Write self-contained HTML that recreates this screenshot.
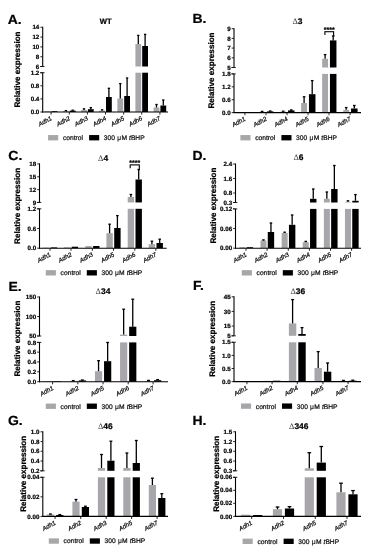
<!DOCTYPE html>
<html><head><meta charset="utf-8"><title>Figure</title>
<style>html,body{margin:0;padding:0;background:#fff}svg{display:block}text{font-family:"Liberation Sans",sans-serif;text-rendering:geometricPrecision;stroke:#000;stroke-width:0.22px}</style></head>
<body><svg width="371" height="550" viewBox="0 0 371 550">
<defs><filter id="soft" x="0" y="0" width="371" height="550" filterUnits="userSpaceOnUse"><feGaussianBlur stdDeviation="0.38"/></filter></defs>
<rect width="371" height="550" fill="#fff"/>
<g filter="url(#soft)">
<rect x="44.80" y="111.20" width="5.80" height="0.80" fill="#a8a6ab"/>
<rect x="51.60" y="111.20" width="5.80" height="0.80" fill="#000"/>
<rect x="63.00" y="111.00" width="5.80" height="1.00" fill="#a8a6ab"/>
<line x1="65.90" y1="110.60" x2="65.90" y2="111.00" stroke="#000" stroke-width="1.3"/>
<line x1="64.74" y1="110.60" x2="67.06" y2="110.60" stroke="#000" stroke-width="1.3"/>
<rect x="69.80" y="110.60" width="5.80" height="1.40" fill="#000"/>
<line x1="72.70" y1="110.20" x2="72.70" y2="110.60" stroke="#000" stroke-width="1.3"/>
<line x1="71.54" y1="110.20" x2="73.86" y2="110.20" stroke="#000" stroke-width="1.3"/>
<rect x="81.10" y="110.00" width="5.80" height="2.00" fill="#a8a6ab"/>
<line x1="84.00" y1="108.80" x2="84.00" y2="110.00" stroke="#000" stroke-width="1.3"/>
<line x1="82.84" y1="108.80" x2="85.16" y2="108.80" stroke="#000" stroke-width="1.3"/>
<rect x="87.90" y="109.20" width="5.80" height="2.80" fill="#000"/>
<line x1="90.80" y1="107.60" x2="90.80" y2="109.20" stroke="#000" stroke-width="1.3"/>
<line x1="89.64" y1="107.60" x2="91.96" y2="107.60" stroke="#000" stroke-width="1.3"/>
<rect x="99.20" y="110.60" width="5.80" height="1.40" fill="#a8a6ab"/>
<line x1="102.10" y1="109.80" x2="102.10" y2="110.60" stroke="#000" stroke-width="1.3"/>
<line x1="100.94" y1="109.80" x2="103.26" y2="109.80" stroke="#000" stroke-width="1.3"/>
<rect x="106.00" y="97.00" width="5.80" height="15.00" fill="#000"/>
<line x1="108.90" y1="88.30" x2="108.90" y2="97.00" stroke="#000" stroke-width="1.3"/>
<line x1="107.74" y1="88.30" x2="110.06" y2="88.30" stroke="#000" stroke-width="1.3"/>
<rect x="117.40" y="98.50" width="5.80" height="13.50" fill="#a8a6ab"/>
<line x1="120.30" y1="83.60" x2="120.30" y2="98.50" stroke="#000" stroke-width="1.3"/>
<line x1="119.14" y1="83.60" x2="121.46" y2="83.60" stroke="#000" stroke-width="1.3"/>
<rect x="124.20" y="96.00" width="5.80" height="16.00" fill="#000"/>
<line x1="127.10" y1="78.00" x2="127.10" y2="96.00" stroke="#000" stroke-width="1.3"/>
<line x1="125.94" y1="78.00" x2="128.26" y2="78.00" stroke="#000" stroke-width="1.3"/>
<rect x="135.40" y="72.70" width="5.80" height="39.30" fill="#a8a6ab"/>
<rect x="135.40" y="44.00" width="5.80" height="22.50" fill="#a8a6ab"/>
<line x1="138.30" y1="35.40" x2="138.30" y2="44.00" stroke="#000" stroke-width="1.3"/>
<line x1="137.14" y1="35.40" x2="139.46" y2="35.40" stroke="#000" stroke-width="1.3"/>
<rect x="142.20" y="72.70" width="5.80" height="39.30" fill="#000"/>
<rect x="142.20" y="46.00" width="5.80" height="20.50" fill="#000"/>
<line x1="145.10" y1="34.40" x2="145.10" y2="46.00" stroke="#000" stroke-width="1.3"/>
<line x1="143.94" y1="34.40" x2="146.26" y2="34.40" stroke="#000" stroke-width="1.3"/>
<rect x="153.60" y="107.50" width="5.80" height="4.50" fill="#a8a6ab"/>
<line x1="156.50" y1="104.50" x2="156.50" y2="107.50" stroke="#000" stroke-width="1.3"/>
<line x1="155.34" y1="104.50" x2="157.66" y2="104.50" stroke="#000" stroke-width="1.3"/>
<rect x="160.40" y="105.50" width="5.80" height="6.50" fill="#000"/>
<line x1="163.30" y1="100.00" x2="163.30" y2="105.50" stroke="#000" stroke-width="1.3"/>
<line x1="162.14" y1="100.00" x2="164.46" y2="100.00" stroke="#000" stroke-width="1.3"/>
<line x1="42.70" y1="26.80" x2="42.70" y2="66.50" stroke="#000" stroke-width="1.1"/>
<line x1="42.70" y1="72.70" x2="42.70" y2="112.50" stroke="#000" stroke-width="1.1"/>
<line x1="42.20" y1="112.00" x2="168.00" y2="112.00" stroke="#000" stroke-width="1.1"/>
<line x1="40.40" y1="27.30" x2="42.70" y2="27.30" stroke="#111" stroke-width="0.9"/>
<text font-size="6.2" font-weight="bold" text-anchor="end" fill="#000" transform="translate(39.30 29.40)">14</text>
<line x1="40.40" y1="37.10" x2="42.70" y2="37.10" stroke="#111" stroke-width="0.9"/>
<text font-size="6.2" font-weight="bold" text-anchor="end" fill="#000" transform="translate(39.30 39.20)">12</text>
<line x1="40.40" y1="46.90" x2="42.70" y2="46.90" stroke="#111" stroke-width="0.9"/>
<text font-size="6.2" font-weight="bold" text-anchor="end" fill="#000" transform="translate(39.30 49.00)">10</text>
<line x1="40.40" y1="56.70" x2="42.70" y2="56.70" stroke="#111" stroke-width="0.9"/>
<text font-size="6.2" font-weight="bold" text-anchor="end" fill="#000" transform="translate(39.30 58.80)">8</text>
<line x1="40.40" y1="66.50" x2="42.70" y2="66.50" stroke="#111" stroke-width="0.9"/>
<text font-size="6.2" font-weight="bold" text-anchor="end" fill="#000" transform="translate(39.30 68.60)">6</text>
<line x1="40.40" y1="72.70" x2="42.70" y2="72.70" stroke="#111" stroke-width="0.9"/>
<text font-size="6.2" font-weight="bold" text-anchor="end" fill="#000" transform="translate(39.30 74.80)">1.2</text>
<line x1="40.40" y1="85.80" x2="42.70" y2="85.80" stroke="#111" stroke-width="0.9"/>
<text font-size="6.2" font-weight="bold" text-anchor="end" fill="#000" transform="translate(39.30 87.90)">0.8</text>
<line x1="40.40" y1="98.90" x2="42.70" y2="98.90" stroke="#111" stroke-width="0.9"/>
<text font-size="6.2" font-weight="bold" text-anchor="end" fill="#000" transform="translate(39.30 101.00)">0.4</text>
<line x1="40.40" y1="112.00" x2="42.70" y2="112.00" stroke="#111" stroke-width="0.9"/>
<text font-size="6.2" font-weight="bold" text-anchor="end" fill="#000" transform="translate(39.30 114.10)">0.0</text>
<line x1="40.10" y1="66.50" x2="44.50" y2="66.50" stroke="#111" stroke-width="0.9"/>
<line x1="40.10" y1="72.70" x2="44.50" y2="72.70" stroke="#111" stroke-width="0.9"/>
<line x1="51.10" y1="112.00" x2="51.10" y2="114.60" stroke="#111" stroke-width="0.9"/>
<text font-size="6.1" font-weight="normal" text-anchor="end" fill="#1a1a1a" font-style="italic" transform="translate(52.20 119.60) rotate(-29)" stroke="none">Adh1</text>
<line x1="69.30" y1="112.00" x2="69.30" y2="114.60" stroke="#111" stroke-width="0.9"/>
<text font-size="6.1" font-weight="normal" text-anchor="end" fill="#1a1a1a" font-style="italic" transform="translate(70.40 119.60) rotate(-29)" stroke="none">Adh2</text>
<line x1="87.40" y1="112.00" x2="87.40" y2="114.60" stroke="#111" stroke-width="0.9"/>
<text font-size="6.1" font-weight="normal" text-anchor="end" fill="#1a1a1a" font-style="italic" transform="translate(88.50 119.60) rotate(-29)" stroke="none">Adh3</text>
<line x1="105.50" y1="112.00" x2="105.50" y2="114.60" stroke="#111" stroke-width="0.9"/>
<text font-size="6.1" font-weight="normal" text-anchor="end" fill="#1a1a1a" font-style="italic" transform="translate(106.60 119.60) rotate(-29)" stroke="none">Adh4</text>
<line x1="123.70" y1="112.00" x2="123.70" y2="114.60" stroke="#111" stroke-width="0.9"/>
<text font-size="6.1" font-weight="normal" text-anchor="end" fill="#1a1a1a" font-style="italic" transform="translate(124.80 119.60) rotate(-29)" stroke="none">Adh5</text>
<line x1="141.70" y1="112.00" x2="141.70" y2="114.60" stroke="#111" stroke-width="0.9"/>
<text font-size="6.1" font-weight="normal" text-anchor="end" fill="#1a1a1a" font-style="italic" transform="translate(142.80 119.60) rotate(-29)" stroke="none">Adh6</text>
<line x1="159.90" y1="112.00" x2="159.90" y2="114.60" stroke="#111" stroke-width="0.9"/>
<text font-size="6.1" font-weight="normal" text-anchor="end" fill="#1a1a1a" font-style="italic" transform="translate(161.00 119.60) rotate(-29)" stroke="none">Adh7</text>
<text font-size="13.2" font-weight="bold" text-anchor="start" fill="#000" transform="translate(7.70 23.60) scale(1.06 1)" stroke="none">A.</text>
<text font-size="7.8" font-weight="bold" text-anchor="start" fill="#000" transform="translate(99.70 23.80) scale(0.98 1)">WT</text>
<text font-size="8.1" font-weight="bold" text-anchor="middle" fill="#000" transform="translate(20.30 69.50) rotate(-90)">Relative expression</text>
<rect x="48.10" y="135.05" width="10.10" height="5.35" fill="#a8a6ab"/>
<text font-size="6.7" font-weight="normal" text-anchor="start" fill="#1a1a1a" transform="translate(62.90 140.10)" stroke="none">control</text>
<rect x="89.10" y="135.05" width="10.10" height="5.35" fill="#000"/>
<text x="103.80" y="140.10" font-size="6.7" fill="#1a1a1a" stroke="none">300 <tspan fill="#444" dx="0.35">μ</tspan><tspan dx="0.35">M</tspan> <tspan font-style="italic" dx="0.2">t</tspan>BHP</text>
<rect x="238.05" y="112.00" width="5.90" height="0.60" fill="#a8a6ab"/>
<rect x="245.85" y="112.00" width="6.50" height="0.60" fill="#000"/>
<rect x="259.15" y="111.80" width="5.90" height="0.80" fill="#a8a6ab"/>
<line x1="262.10" y1="111.40" x2="262.10" y2="111.80" stroke="#000" stroke-width="1.3"/>
<line x1="260.80" y1="111.40" x2="263.40" y2="111.40" stroke="#000" stroke-width="1.3"/>
<rect x="266.95" y="111.40" width="6.50" height="1.20" fill="#000"/>
<line x1="270.20" y1="111.00" x2="270.20" y2="111.40" stroke="#000" stroke-width="1.3"/>
<line x1="268.90" y1="111.00" x2="271.50" y2="111.00" stroke="#000" stroke-width="1.3"/>
<rect x="280.25" y="111.60" width="5.90" height="1.00" fill="#a8a6ab"/>
<line x1="283.20" y1="111.20" x2="283.20" y2="111.60" stroke="#000" stroke-width="1.3"/>
<line x1="281.90" y1="111.20" x2="284.50" y2="111.20" stroke="#000" stroke-width="1.3"/>
<rect x="288.05" y="110.40" width="6.50" height="2.20" fill="#000"/>
<line x1="291.30" y1="109.90" x2="291.30" y2="110.40" stroke="#000" stroke-width="1.3"/>
<line x1="290.00" y1="109.90" x2="292.60" y2="109.90" stroke="#000" stroke-width="1.3"/>
<rect x="301.15" y="103.00" width="5.90" height="9.60" fill="#a8a6ab"/>
<line x1="304.10" y1="96.80" x2="304.10" y2="103.00" stroke="#000" stroke-width="1.3"/>
<line x1="302.80" y1="96.80" x2="305.40" y2="96.80" stroke="#000" stroke-width="1.3"/>
<rect x="308.95" y="94.20" width="6.50" height="18.40" fill="#000"/>
<line x1="312.20" y1="80.60" x2="312.20" y2="94.20" stroke="#000" stroke-width="1.3"/>
<line x1="310.90" y1="80.60" x2="313.50" y2="80.60" stroke="#000" stroke-width="1.3"/>
<rect x="322.15" y="73.90" width="5.90" height="38.70" fill="#a8a6ab"/>
<rect x="322.15" y="58.80" width="5.90" height="8.70" fill="#a8a6ab"/>
<line x1="325.10" y1="54.60" x2="325.10" y2="58.80" stroke="#000" stroke-width="1.3"/>
<line x1="323.80" y1="54.60" x2="326.40" y2="54.60" stroke="#000" stroke-width="1.3"/>
<rect x="329.95" y="73.90" width="6.50" height="38.70" fill="#000"/>
<rect x="329.95" y="40.40" width="6.50" height="27.10" fill="#000"/>
<line x1="333.20" y1="36.00" x2="333.20" y2="40.40" stroke="#000" stroke-width="1.3"/>
<line x1="331.90" y1="36.00" x2="334.50" y2="36.00" stroke="#000" stroke-width="1.3"/>
<rect x="343.25" y="109.80" width="5.90" height="2.80" fill="#a8a6ab"/>
<line x1="346.20" y1="107.60" x2="346.20" y2="109.80" stroke="#000" stroke-width="1.3"/>
<line x1="344.90" y1="107.60" x2="347.50" y2="107.60" stroke="#000" stroke-width="1.3"/>
<rect x="351.05" y="108.50" width="6.50" height="4.10" fill="#000"/>
<line x1="354.30" y1="105.50" x2="354.30" y2="108.50" stroke="#000" stroke-width="1.3"/>
<line x1="353.00" y1="105.50" x2="355.60" y2="105.50" stroke="#000" stroke-width="1.3"/>
<line x1="234.00" y1="28.20" x2="234.00" y2="67.50" stroke="#000" stroke-width="1.1"/>
<line x1="234.00" y1="73.90" x2="234.00" y2="113.10" stroke="#000" stroke-width="1.1"/>
<line x1="233.50" y1="112.60" x2="361.00" y2="112.60" stroke="#000" stroke-width="1.1"/>
<line x1="231.70" y1="28.70" x2="234.00" y2="28.70" stroke="#111" stroke-width="0.9"/>
<text font-size="6.2" font-weight="bold" text-anchor="end" fill="#000" transform="translate(230.60 30.80)">9</text>
<line x1="231.70" y1="38.40" x2="234.00" y2="38.40" stroke="#111" stroke-width="0.9"/>
<text font-size="6.2" font-weight="bold" text-anchor="end" fill="#000" transform="translate(230.60 40.50)">8</text>
<line x1="231.70" y1="48.10" x2="234.00" y2="48.10" stroke="#111" stroke-width="0.9"/>
<text font-size="6.2" font-weight="bold" text-anchor="end" fill="#000" transform="translate(230.60 50.20)">7</text>
<line x1="231.70" y1="57.80" x2="234.00" y2="57.80" stroke="#111" stroke-width="0.9"/>
<text font-size="6.2" font-weight="bold" text-anchor="end" fill="#000" transform="translate(230.60 59.90)">6</text>
<line x1="231.70" y1="67.50" x2="234.00" y2="67.50" stroke="#111" stroke-width="0.9"/>
<text font-size="6.2" font-weight="bold" text-anchor="end" fill="#000" transform="translate(230.60 69.60)">5</text>
<line x1="231.70" y1="73.90" x2="234.00" y2="73.90" stroke="#111" stroke-width="0.9"/>
<text font-size="6.2" font-weight="bold" text-anchor="end" fill="#000" transform="translate(230.60 76.00)">1.8</text>
<line x1="231.70" y1="86.80" x2="234.00" y2="86.80" stroke="#111" stroke-width="0.9"/>
<text font-size="6.2" font-weight="bold" text-anchor="end" fill="#000" transform="translate(230.60 88.90)">1.2</text>
<line x1="231.70" y1="99.70" x2="234.00" y2="99.70" stroke="#111" stroke-width="0.9"/>
<text font-size="6.2" font-weight="bold" text-anchor="end" fill="#000" transform="translate(230.60 101.80)">0.6</text>
<line x1="231.70" y1="112.60" x2="234.00" y2="112.60" stroke="#111" stroke-width="0.9"/>
<text font-size="6.2" font-weight="bold" text-anchor="end" fill="#000" transform="translate(230.60 114.70)">0.0</text>
<line x1="231.40" y1="67.50" x2="235.80" y2="67.50" stroke="#111" stroke-width="0.9"/>
<line x1="231.40" y1="73.90" x2="235.80" y2="73.90" stroke="#111" stroke-width="0.9"/>
<line x1="244.90" y1="112.60" x2="244.90" y2="115.20" stroke="#111" stroke-width="0.9"/>
<text font-size="6.1" font-weight="normal" text-anchor="end" fill="#1a1a1a" font-style="italic" transform="translate(246.00 120.20) rotate(-29)" stroke="none">Adh1</text>
<line x1="266.00" y1="112.60" x2="266.00" y2="115.20" stroke="#111" stroke-width="0.9"/>
<text font-size="6.1" font-weight="normal" text-anchor="end" fill="#1a1a1a" font-style="italic" transform="translate(267.10 120.20) rotate(-29)" stroke="none">Adh2</text>
<line x1="287.10" y1="112.60" x2="287.10" y2="115.20" stroke="#111" stroke-width="0.9"/>
<text font-size="6.1" font-weight="normal" text-anchor="end" fill="#1a1a1a" font-style="italic" transform="translate(288.20 120.20) rotate(-29)" stroke="none">Adh4</text>
<line x1="308.00" y1="112.60" x2="308.00" y2="115.20" stroke="#111" stroke-width="0.9"/>
<text font-size="6.1" font-weight="normal" text-anchor="end" fill="#1a1a1a" font-style="italic" transform="translate(309.10 120.20) rotate(-29)" stroke="none">Adh5</text>
<line x1="329.00" y1="112.60" x2="329.00" y2="115.20" stroke="#111" stroke-width="0.9"/>
<text font-size="6.1" font-weight="normal" text-anchor="end" fill="#1a1a1a" font-style="italic" transform="translate(330.10 120.20) rotate(-29)" stroke="none">Adh6</text>
<line x1="350.10" y1="112.60" x2="350.10" y2="115.20" stroke="#111" stroke-width="0.9"/>
<text font-size="6.1" font-weight="normal" text-anchor="end" fill="#1a1a1a" font-style="italic" transform="translate(351.20 120.20) rotate(-29)" stroke="none">Adh7</text>
<text font-size="13.2" font-weight="bold" text-anchor="start" fill="#000" transform="translate(192.50 23.40) scale(1.06 1)" stroke="none">B.</text>
<text font-size="8.2" font-weight="bold" text-anchor="start" fill="#000" transform="translate(292.40 24.30) scale(1.03 1)"><tspan font-family="Liberation Serif, serif" font-weight="normal" font-size="8.2" stroke="none" fill="#3a3a3a">Δ</tspan>3</text>
<text font-size="8.1" font-weight="bold" text-anchor="middle" fill="#000" transform="translate(214.10 70.50) rotate(-90)">Relative expression</text>
<rect x="240.40" y="135.05" width="10.10" height="5.35" fill="#a8a6ab"/>
<text font-size="6.7" font-weight="normal" text-anchor="start" fill="#1a1a1a" transform="translate(255.20 140.10)" stroke="none">control</text>
<rect x="281.40" y="135.05" width="10.10" height="5.35" fill="#000"/>
<text x="296.10" y="140.10" font-size="6.7" fill="#1a1a1a" stroke="none">300 <tspan fill="#444" dx="0.35">μ</tspan><tspan dx="0.35">M</tspan> <tspan font-style="italic" dx="0.2">t</tspan>BHP</text>
<line x1="324.90" y1="31.70" x2="333.60" y2="31.70" stroke="#000" stroke-width="1.1"/>
<line x1="324.90" y1="31.20" x2="324.90" y2="35.00" stroke="#000" stroke-width="1.1"/>
<line x1="333.60" y1="31.20" x2="333.60" y2="36.20" stroke="#000" stroke-width="1.1"/>
<text font-size="6.9" font-weight="bold" text-anchor="middle" fill="#000" transform="translate(329.15 32.10) scale(1.02 1)" stroke="none">****</text>
<rect x="42.90" y="247.60" width="6.40" height="0.60" fill="#a8a6ab"/>
<rect x="50.70" y="247.40" width="6.40" height="0.80" fill="#000"/>
<rect x="63.90" y="247.30" width="6.40" height="0.90" fill="#a8a6ab"/>
<rect x="71.70" y="246.70" width="6.40" height="1.50" fill="#000"/>
<rect x="85.30" y="246.10" width="6.40" height="2.10" fill="#a8a6ab"/>
<rect x="93.10" y="246.00" width="6.40" height="2.20" fill="#000"/>
<rect x="106.40" y="233.20" width="6.40" height="15.00" fill="#a8a6ab"/>
<line x1="109.60" y1="224.20" x2="109.60" y2="233.20" stroke="#000" stroke-width="1.3"/>
<line x1="108.32" y1="224.20" x2="110.88" y2="224.20" stroke="#000" stroke-width="1.3"/>
<rect x="114.20" y="228.00" width="6.40" height="20.20" fill="#000"/>
<line x1="117.40" y1="215.60" x2="117.40" y2="228.00" stroke="#000" stroke-width="1.3"/>
<line x1="116.12" y1="215.60" x2="118.68" y2="215.60" stroke="#000" stroke-width="1.3"/>
<rect x="127.70" y="208.80" width="6.40" height="39.40" fill="#a8a6ab"/>
<rect x="127.70" y="197.00" width="6.40" height="5.45" fill="#a8a6ab"/>
<line x1="130.90" y1="194.50" x2="130.90" y2="197.00" stroke="#000" stroke-width="1.3"/>
<line x1="129.62" y1="194.50" x2="132.18" y2="194.50" stroke="#000" stroke-width="1.3"/>
<rect x="135.50" y="208.80" width="6.40" height="39.40" fill="#000"/>
<rect x="135.50" y="179.50" width="6.40" height="22.95" fill="#000"/>
<line x1="138.70" y1="169.50" x2="138.70" y2="179.50" stroke="#000" stroke-width="1.3"/>
<line x1="137.42" y1="169.50" x2="139.98" y2="169.50" stroke="#000" stroke-width="1.3"/>
<rect x="148.70" y="244.20" width="6.40" height="4.00" fill="#a8a6ab"/>
<line x1="151.90" y1="241.20" x2="151.90" y2="244.20" stroke="#000" stroke-width="1.3"/>
<line x1="150.62" y1="241.20" x2="153.18" y2="241.20" stroke="#000" stroke-width="1.3"/>
<rect x="156.50" y="243.00" width="6.40" height="5.20" fill="#000"/>
<line x1="159.70" y1="239.20" x2="159.70" y2="243.00" stroke="#000" stroke-width="1.3"/>
<line x1="158.42" y1="239.20" x2="160.98" y2="239.20" stroke="#000" stroke-width="1.3"/>
<line x1="39.50" y1="163.40" x2="39.50" y2="202.45" stroke="#000" stroke-width="1.1"/>
<line x1="39.50" y1="208.80" x2="39.50" y2="248.70" stroke="#000" stroke-width="1.1"/>
<line x1="39.00" y1="248.20" x2="166.70" y2="248.20" stroke="#000" stroke-width="1.1"/>
<line x1="37.20" y1="163.90" x2="39.50" y2="163.90" stroke="#111" stroke-width="0.9"/>
<text font-size="6.2" font-weight="bold" text-anchor="end" fill="#000" transform="translate(36.10 166.00)">18</text>
<line x1="37.20" y1="176.75" x2="39.50" y2="176.75" stroke="#111" stroke-width="0.9"/>
<text font-size="6.2" font-weight="bold" text-anchor="end" fill="#000" transform="translate(36.10 178.85)">15</text>
<line x1="37.20" y1="189.60" x2="39.50" y2="189.60" stroke="#111" stroke-width="0.9"/>
<text font-size="6.2" font-weight="bold" text-anchor="end" fill="#000" transform="translate(36.10 191.70)">12</text>
<line x1="37.20" y1="202.45" x2="39.50" y2="202.45" stroke="#111" stroke-width="0.9"/>
<text font-size="6.2" font-weight="bold" text-anchor="end" fill="#000" transform="translate(36.10 204.55)">9</text>
<line x1="37.20" y1="208.80" x2="39.50" y2="208.80" stroke="#111" stroke-width="0.9"/>
<text font-size="6.2" font-weight="bold" text-anchor="end" fill="#000" transform="translate(36.10 210.90)">1.2</text>
<line x1="37.20" y1="228.50" x2="39.50" y2="228.50" stroke="#111" stroke-width="0.9"/>
<text font-size="6.2" font-weight="bold" text-anchor="end" fill="#000" transform="translate(36.10 230.60)">0.6</text>
<line x1="37.20" y1="248.20" x2="39.50" y2="248.20" stroke="#111" stroke-width="0.9"/>
<text font-size="6.2" font-weight="bold" text-anchor="end" fill="#000" transform="translate(36.10 250.30)">0.0</text>
<line x1="36.90" y1="202.45" x2="41.30" y2="202.45" stroke="#111" stroke-width="0.9"/>
<line x1="36.90" y1="208.80" x2="41.30" y2="208.80" stroke="#111" stroke-width="0.9"/>
<line x1="50.00" y1="248.20" x2="50.00" y2="250.80" stroke="#111" stroke-width="0.9"/>
<text font-size="6.1" font-weight="normal" text-anchor="end" fill="#1a1a1a" font-style="italic" transform="translate(51.10 255.80) rotate(-29)" stroke="none">Adh1</text>
<line x1="71.00" y1="248.20" x2="71.00" y2="250.80" stroke="#111" stroke-width="0.9"/>
<text font-size="6.1" font-weight="normal" text-anchor="end" fill="#1a1a1a" font-style="italic" transform="translate(72.10 255.80) rotate(-29)" stroke="none">Adh2</text>
<line x1="92.40" y1="248.20" x2="92.40" y2="250.80" stroke="#111" stroke-width="0.9"/>
<text font-size="6.1" font-weight="normal" text-anchor="end" fill="#1a1a1a" font-style="italic" transform="translate(93.50 255.80) rotate(-29)" stroke="none">Adh3</text>
<line x1="113.50" y1="248.20" x2="113.50" y2="250.80" stroke="#111" stroke-width="0.9"/>
<text font-size="6.1" font-weight="normal" text-anchor="end" fill="#1a1a1a" font-style="italic" transform="translate(114.60 255.80) rotate(-29)" stroke="none">Adh5</text>
<line x1="134.80" y1="248.20" x2="134.80" y2="250.80" stroke="#111" stroke-width="0.9"/>
<text font-size="6.1" font-weight="normal" text-anchor="end" fill="#1a1a1a" font-style="italic" transform="translate(135.90 255.80) rotate(-29)" stroke="none">Adh6</text>
<line x1="155.80" y1="248.20" x2="155.80" y2="250.80" stroke="#111" stroke-width="0.9"/>
<text font-size="6.1" font-weight="normal" text-anchor="end" fill="#1a1a1a" font-style="italic" transform="translate(156.90 255.80) rotate(-29)" stroke="none">Adh7</text>
<text font-size="13.2" font-weight="bold" text-anchor="start" fill="#000" transform="translate(8.30 159.80) scale(1.06 1)" stroke="none">C.</text>
<text font-size="8.2" font-weight="bold" text-anchor="start" fill="#000" transform="translate(98.00 160.50) scale(1.03 1)"><tspan font-family="Liberation Serif, serif" font-weight="normal" font-size="8.2" stroke="none" fill="#3a3a3a">Δ</tspan>4</text>
<text font-size="8.1" font-weight="bold" text-anchor="middle" fill="#000" transform="translate(20.30 205.90) rotate(-90)">Relative expression</text>
<rect x="45.80" y="270.15" width="10.10" height="5.35" fill="#a8a6ab"/>
<text font-size="6.7" font-weight="normal" text-anchor="start" fill="#1a1a1a" transform="translate(60.60 275.20)" stroke="none">control</text>
<rect x="86.80" y="270.15" width="10.10" height="5.35" fill="#000"/>
<text x="101.50" y="275.20" font-size="6.7" fill="#1a1a1a" stroke="none">300 <tspan fill="#444" dx="0.35">μ</tspan><tspan dx="0.35">M</tspan> <tspan font-style="italic" dx="0.2">t</tspan>BHP</text>
<line x1="130.20" y1="164.90" x2="139.30" y2="164.90" stroke="#000" stroke-width="1.1"/>
<line x1="130.20" y1="164.40" x2="130.20" y2="168.20" stroke="#000" stroke-width="1.1"/>
<line x1="139.30" y1="164.40" x2="139.30" y2="169.80" stroke="#000" stroke-width="1.1"/>
<text font-size="6.9" font-weight="bold" text-anchor="middle" fill="#000" transform="translate(134.65 165.30) scale(1.02 1)" stroke="none">****</text>
<rect x="239.35" y="247.20" width="6.00" height="1.00" fill="#a8a6ab"/>
<rect x="246.65" y="247.20" width="6.40" height="1.00" fill="#000"/>
<rect x="260.45" y="240.50" width="6.00" height="7.70" fill="#a8a6ab"/>
<line x1="263.45" y1="239.90" x2="263.45" y2="240.50" stroke="#000" stroke-width="1.3"/>
<line x1="262.17" y1="239.90" x2="264.73" y2="239.90" stroke="#000" stroke-width="1.3"/>
<rect x="267.75" y="232.00" width="6.40" height="16.20" fill="#000"/>
<line x1="270.95" y1="223.00" x2="270.95" y2="232.00" stroke="#000" stroke-width="1.3"/>
<line x1="269.67" y1="223.00" x2="272.23" y2="223.00" stroke="#000" stroke-width="1.3"/>
<rect x="281.65" y="233.00" width="6.00" height="15.20" fill="#a8a6ab"/>
<line x1="284.65" y1="232.20" x2="284.65" y2="233.00" stroke="#000" stroke-width="1.3"/>
<line x1="283.37" y1="232.20" x2="285.93" y2="232.20" stroke="#000" stroke-width="1.3"/>
<rect x="288.95" y="224.80" width="6.40" height="23.40" fill="#000"/>
<line x1="292.15" y1="215.00" x2="292.15" y2="224.80" stroke="#000" stroke-width="1.3"/>
<line x1="290.87" y1="215.00" x2="293.43" y2="215.00" stroke="#000" stroke-width="1.3"/>
<rect x="302.75" y="242.20" width="6.00" height="6.00" fill="#a8a6ab"/>
<line x1="305.75" y1="241.40" x2="305.75" y2="242.20" stroke="#000" stroke-width="1.3"/>
<line x1="304.47" y1="241.40" x2="307.03" y2="241.40" stroke="#000" stroke-width="1.3"/>
<rect x="310.05" y="208.90" width="6.40" height="39.30" fill="#000"/>
<rect x="310.05" y="198.80" width="6.40" height="3.70" fill="#000"/>
<line x1="313.25" y1="189.00" x2="313.25" y2="198.80" stroke="#000" stroke-width="1.3"/>
<line x1="311.97" y1="189.00" x2="314.53" y2="189.00" stroke="#000" stroke-width="1.3"/>
<rect x="323.85" y="208.90" width="6.00" height="39.30" fill="#a8a6ab"/>
<rect x="323.85" y="198.80" width="6.00" height="3.70" fill="#a8a6ab"/>
<line x1="326.85" y1="192.00" x2="326.85" y2="198.80" stroke="#000" stroke-width="1.3"/>
<line x1="325.57" y1="192.00" x2="328.13" y2="192.00" stroke="#000" stroke-width="1.3"/>
<rect x="331.15" y="208.90" width="6.40" height="39.30" fill="#000"/>
<rect x="331.15" y="189.00" width="6.40" height="13.50" fill="#000"/>
<line x1="334.35" y1="165.50" x2="334.35" y2="189.00" stroke="#000" stroke-width="1.3"/>
<line x1="333.07" y1="165.50" x2="335.63" y2="165.50" stroke="#000" stroke-width="1.3"/>
<rect x="344.95" y="208.90" width="6.00" height="39.30" fill="#a8a6ab"/>
<rect x="344.95" y="201.80" width="6.00" height="0.70" fill="#a8a6ab"/>
<line x1="347.95" y1="200.80" x2="347.95" y2="201.80" stroke="#000" stroke-width="1.3"/>
<line x1="346.67" y1="200.80" x2="349.23" y2="200.80" stroke="#000" stroke-width="1.3"/>
<rect x="352.25" y="208.90" width="6.40" height="39.30" fill="#000"/>
<rect x="352.25" y="200.80" width="6.40" height="1.70" fill="#000"/>
<line x1="355.45" y1="194.60" x2="355.45" y2="200.80" stroke="#000" stroke-width="1.3"/>
<line x1="354.17" y1="194.60" x2="356.73" y2="194.60" stroke="#000" stroke-width="1.3"/>
<line x1="235.50" y1="163.50" x2="235.50" y2="202.50" stroke="#000" stroke-width="1.1"/>
<line x1="235.50" y1="208.90" x2="235.50" y2="248.70" stroke="#000" stroke-width="1.1"/>
<line x1="235.00" y1="248.20" x2="361.00" y2="248.20" stroke="#000" stroke-width="1.1"/>
<line x1="233.20" y1="164.00" x2="235.50" y2="164.00" stroke="#111" stroke-width="0.9"/>
<text font-size="6.2" font-weight="bold" text-anchor="end" fill="#000" transform="translate(232.10 166.10)">2.4</text>
<line x1="233.20" y1="178.50" x2="235.50" y2="178.50" stroke="#111" stroke-width="0.9"/>
<text font-size="6.2" font-weight="bold" text-anchor="end" fill="#000" transform="translate(232.10 180.60)">1.6</text>
<line x1="233.20" y1="193.00" x2="235.50" y2="193.00" stroke="#111" stroke-width="0.9"/>
<text font-size="6.2" font-weight="bold" text-anchor="end" fill="#000" transform="translate(232.10 195.10)">0.8</text>
<line x1="233.20" y1="202.50" x2="235.50" y2="202.50" stroke="#111" stroke-width="0.9"/>
<text font-size="6.2" font-weight="bold" text-anchor="end" fill="#000" transform="translate(232.10 204.60)">0.3</text>
<line x1="233.20" y1="208.90" x2="235.50" y2="208.90" stroke="#111" stroke-width="0.9"/>
<text font-size="6.2" font-weight="bold" text-anchor="end" fill="#000" transform="translate(232.10 211.00)">0.12</text>
<line x1="233.20" y1="228.55" x2="235.50" y2="228.55" stroke="#111" stroke-width="0.9"/>
<text font-size="6.2" font-weight="bold" text-anchor="end" fill="#000" transform="translate(232.10 230.65)">0.06</text>
<line x1="233.20" y1="248.20" x2="235.50" y2="248.20" stroke="#111" stroke-width="0.9"/>
<text font-size="6.2" font-weight="bold" text-anchor="end" fill="#000" transform="translate(232.10 250.30)">0.00</text>
<line x1="232.90" y1="202.50" x2="237.30" y2="202.50" stroke="#111" stroke-width="0.9"/>
<line x1="232.90" y1="208.90" x2="237.30" y2="208.90" stroke="#111" stroke-width="0.9"/>
<line x1="246.00" y1="248.20" x2="246.00" y2="250.80" stroke="#111" stroke-width="0.9"/>
<text font-size="6.1" font-weight="normal" text-anchor="end" fill="#1a1a1a" font-style="italic" transform="translate(247.10 255.80) rotate(-29)" stroke="none">Adh1</text>
<line x1="267.10" y1="248.20" x2="267.10" y2="250.80" stroke="#111" stroke-width="0.9"/>
<text font-size="6.1" font-weight="normal" text-anchor="end" fill="#1a1a1a" font-style="italic" transform="translate(268.20 255.80) rotate(-29)" stroke="none">Adh2</text>
<line x1="288.30" y1="248.20" x2="288.30" y2="250.80" stroke="#111" stroke-width="0.9"/>
<text font-size="6.1" font-weight="normal" text-anchor="end" fill="#1a1a1a" font-style="italic" transform="translate(289.40 255.80) rotate(-29)" stroke="none">Adh3</text>
<line x1="309.40" y1="248.20" x2="309.40" y2="250.80" stroke="#111" stroke-width="0.9"/>
<text font-size="6.1" font-weight="normal" text-anchor="end" fill="#1a1a1a" font-style="italic" transform="translate(310.50 255.80) rotate(-29)" stroke="none">Adh4</text>
<line x1="330.50" y1="248.20" x2="330.50" y2="250.80" stroke="#111" stroke-width="0.9"/>
<text font-size="6.1" font-weight="normal" text-anchor="end" fill="#1a1a1a" font-style="italic" transform="translate(331.60 255.80) rotate(-29)" stroke="none">Adh5</text>
<line x1="351.60" y1="248.20" x2="351.60" y2="250.80" stroke="#111" stroke-width="0.9"/>
<text font-size="6.1" font-weight="normal" text-anchor="end" fill="#1a1a1a" font-style="italic" transform="translate(352.70 255.80) rotate(-29)" stroke="none">Adh7</text>
<text font-size="13.2" font-weight="bold" text-anchor="start" fill="#000" transform="translate(192.50 159.80) scale(1.06 1)" stroke="none">D.</text>
<text font-size="8.2" font-weight="bold" text-anchor="start" fill="#000" transform="translate(293.40 160.30) scale(1.03 1)"><tspan font-family="Liberation Serif, serif" font-weight="normal" font-size="8.2" stroke="none" fill="#3a3a3a">Δ</tspan>6</text>
<text font-size="8.1" font-weight="bold" text-anchor="middle" fill="#000" transform="translate(216.00 205.60) rotate(-90)">Relative expression</text>
<rect x="241.80" y="270.15" width="10.10" height="5.35" fill="#a8a6ab"/>
<text font-size="6.7" font-weight="normal" text-anchor="start" fill="#1a1a1a" transform="translate(256.60 275.20)" stroke="none">control</text>
<rect x="282.80" y="270.15" width="10.10" height="5.35" fill="#000"/>
<text x="297.50" y="275.20" font-size="6.7" fill="#1a1a1a" stroke="none">300 <tspan fill="#444" dx="0.35">μ</tspan><tspan dx="0.35">M</tspan> <tspan font-style="italic" dx="0.2">t</tspan>BHP</text>
<rect x="44.45" y="381.20" width="7.20" height="0.50" fill="#a8a6ab"/>
<rect x="53.55" y="381.20" width="7.20" height="0.50" fill="#000"/>
<rect x="69.65" y="381.00" width="7.20" height="0.70" fill="#a8a6ab"/>
<line x1="73.25" y1="380.60" x2="73.25" y2="381.00" stroke="#000" stroke-width="1.3"/>
<line x1="71.81" y1="380.60" x2="74.69" y2="380.60" stroke="#000" stroke-width="1.3"/>
<rect x="78.75" y="380.40" width="7.20" height="1.30" fill="#000"/>
<line x1="82.35" y1="380.00" x2="82.35" y2="380.40" stroke="#000" stroke-width="1.3"/>
<line x1="80.91" y1="380.00" x2="83.79" y2="380.00" stroke="#000" stroke-width="1.3"/>
<rect x="94.95" y="371.20" width="7.20" height="10.50" fill="#a8a6ab"/>
<line x1="98.55" y1="360.70" x2="98.55" y2="371.20" stroke="#000" stroke-width="1.3"/>
<line x1="97.11" y1="360.70" x2="99.99" y2="360.70" stroke="#000" stroke-width="1.3"/>
<rect x="104.05" y="361.20" width="7.20" height="20.50" fill="#000"/>
<line x1="107.65" y1="342.50" x2="107.65" y2="361.20" stroke="#000" stroke-width="1.3"/>
<line x1="106.21" y1="342.50" x2="109.09" y2="342.50" stroke="#000" stroke-width="1.3"/>
<rect x="120.05" y="342.40" width="7.20" height="39.30" fill="#a8a6ab"/>
<rect x="120.05" y="334.60" width="7.20" height="1.40" fill="#a8a6ab"/>
<line x1="123.65" y1="309.20" x2="123.65" y2="334.60" stroke="#000" stroke-width="1.3"/>
<line x1="122.21" y1="309.20" x2="125.09" y2="309.20" stroke="#000" stroke-width="1.3"/>
<rect x="129.15" y="342.40" width="7.20" height="39.30" fill="#000"/>
<rect x="129.15" y="326.70" width="7.20" height="9.30" fill="#000"/>
<line x1="132.75" y1="299.20" x2="132.75" y2="326.70" stroke="#000" stroke-width="1.3"/>
<line x1="131.31" y1="299.20" x2="134.19" y2="299.20" stroke="#000" stroke-width="1.3"/>
<rect x="144.95" y="381.00" width="7.20" height="0.70" fill="#a8a6ab"/>
<line x1="148.55" y1="380.40" x2="148.55" y2="381.00" stroke="#000" stroke-width="1.3"/>
<line x1="147.11" y1="380.40" x2="149.99" y2="380.40" stroke="#000" stroke-width="1.3"/>
<rect x="154.05" y="380.20" width="7.20" height="1.50" fill="#000"/>
<line x1="157.65" y1="379.60" x2="157.65" y2="380.20" stroke="#000" stroke-width="1.3"/>
<line x1="156.21" y1="379.60" x2="159.09" y2="379.60" stroke="#000" stroke-width="1.3"/>
<line x1="39.50" y1="296.50" x2="39.50" y2="336.00" stroke="#000" stroke-width="1.1"/>
<line x1="39.50" y1="342.40" x2="39.50" y2="382.20" stroke="#000" stroke-width="1.1"/>
<line x1="39.00" y1="381.70" x2="168.00" y2="381.70" stroke="#000" stroke-width="1.1"/>
<line x1="37.20" y1="297.00" x2="39.50" y2="297.00" stroke="#111" stroke-width="0.9"/>
<text font-size="6.2" font-weight="bold" text-anchor="end" fill="#000" transform="translate(36.10 299.10)">150</text>
<line x1="37.20" y1="316.50" x2="39.50" y2="316.50" stroke="#111" stroke-width="0.9"/>
<text font-size="6.2" font-weight="bold" text-anchor="end" fill="#000" transform="translate(36.10 318.60)">100</text>
<line x1="37.20" y1="336.00" x2="39.50" y2="336.00" stroke="#111" stroke-width="0.9"/>
<text font-size="6.2" font-weight="bold" text-anchor="end" fill="#000" transform="translate(36.10 338.10)">50</text>
<line x1="37.20" y1="342.40" x2="39.50" y2="342.40" stroke="#111" stroke-width="0.9"/>
<text font-size="6.2" font-weight="bold" text-anchor="end" fill="#000" transform="translate(36.10 344.50)">0.8</text>
<line x1="37.20" y1="352.15" x2="39.50" y2="352.15" stroke="#111" stroke-width="0.9"/>
<text font-size="6.2" font-weight="bold" text-anchor="end" fill="#000" transform="translate(36.10 354.25)">0.6</text>
<line x1="37.20" y1="361.90" x2="39.50" y2="361.90" stroke="#111" stroke-width="0.9"/>
<text font-size="6.2" font-weight="bold" text-anchor="end" fill="#000" transform="translate(36.10 364.00)">0.4</text>
<line x1="37.20" y1="371.75" x2="39.50" y2="371.75" stroke="#111" stroke-width="0.9"/>
<text font-size="6.2" font-weight="bold" text-anchor="end" fill="#000" transform="translate(36.10 373.85)">0.2</text>
<line x1="37.20" y1="381.70" x2="39.50" y2="381.70" stroke="#111" stroke-width="0.9"/>
<text font-size="6.2" font-weight="bold" text-anchor="end" fill="#000" transform="translate(36.10 383.80)">0.0</text>
<line x1="36.90" y1="336.00" x2="41.30" y2="336.00" stroke="#111" stroke-width="0.9"/>
<line x1="36.90" y1="342.40" x2="41.30" y2="342.40" stroke="#111" stroke-width="0.9"/>
<line x1="52.60" y1="381.70" x2="52.60" y2="384.30" stroke="#111" stroke-width="0.9"/>
<text font-size="6.1" font-weight="normal" text-anchor="end" fill="#1a1a1a" font-style="italic" transform="translate(54.00 389.30) rotate(-29)" stroke="none">Adh1</text>
<line x1="77.80" y1="381.70" x2="77.80" y2="384.30" stroke="#111" stroke-width="0.9"/>
<text font-size="6.1" font-weight="normal" text-anchor="end" fill="#1a1a1a" font-style="italic" transform="translate(79.20 389.30) rotate(-29)" stroke="none">Adh2</text>
<line x1="103.10" y1="381.70" x2="103.10" y2="384.30" stroke="#111" stroke-width="0.9"/>
<text font-size="6.1" font-weight="normal" text-anchor="end" fill="#1a1a1a" font-style="italic" transform="translate(104.50 389.30) rotate(-29)" stroke="none">Adh5</text>
<line x1="128.20" y1="381.70" x2="128.20" y2="384.30" stroke="#111" stroke-width="0.9"/>
<text font-size="6.1" font-weight="normal" text-anchor="end" fill="#1a1a1a" font-style="italic" transform="translate(129.60 389.30) rotate(-29)" stroke="none">Adh6</text>
<line x1="153.10" y1="381.70" x2="153.10" y2="384.30" stroke="#111" stroke-width="0.9"/>
<text font-size="6.1" font-weight="normal" text-anchor="end" fill="#1a1a1a" font-style="italic" transform="translate(154.50 389.30) rotate(-29)" stroke="none">Adh7</text>
<text font-size="13.2" font-weight="bold" text-anchor="start" fill="#000" transform="translate(8.40 290.60) scale(1.06 1)" stroke="none">E.</text>
<text font-size="8.2" font-weight="bold" text-anchor="start" fill="#000" transform="translate(95.60 293.80) scale(1.03 1)"><tspan font-family="Liberation Serif, serif" font-weight="normal" font-size="8.2" stroke="none" fill="#3a3a3a">Δ</tspan>34</text>
<text font-size="8.1" font-weight="bold" text-anchor="middle" fill="#000" transform="translate(20.30 338.60) rotate(-90)">Relative expression</text>
<rect x="45.80" y="403.55" width="10.10" height="5.35" fill="#a8a6ab"/>
<text font-size="6.7" font-weight="normal" text-anchor="start" fill="#1a1a1a" transform="translate(60.60 408.60)" stroke="none">control</text>
<rect x="86.80" y="403.55" width="10.10" height="5.35" fill="#000"/>
<text x="101.50" y="408.60" font-size="6.7" fill="#1a1a1a" stroke="none">300 <tspan fill="#444" dx="0.35">μ</tspan><tspan dx="0.35">M</tspan> <tspan font-style="italic" dx="0.2">t</tspan>BHP</text>
<rect x="238.50" y="381.40" width="7.40" height="0.20" fill="#a8a6ab"/>
<rect x="247.90" y="381.40" width="7.40" height="0.20" fill="#000"/>
<rect x="263.70" y="380.90" width="7.40" height="0.70" fill="#a8a6ab"/>
<rect x="273.10" y="380.70" width="7.40" height="0.90" fill="#000"/>
<rect x="288.90" y="342.30" width="7.40" height="39.30" fill="#a8a6ab"/>
<rect x="288.90" y="323.40" width="7.40" height="12.40" fill="#a8a6ab"/>
<line x1="292.60" y1="299.60" x2="292.60" y2="323.40" stroke="#000" stroke-width="1.3"/>
<line x1="291.12" y1="299.60" x2="294.08" y2="299.60" stroke="#000" stroke-width="1.3"/>
<rect x="298.30" y="342.30" width="7.40" height="39.30" fill="#000"/>
<rect x="298.30" y="334.00" width="7.40" height="1.80" fill="#000"/>
<line x1="302.00" y1="327.60" x2="302.00" y2="334.00" stroke="#000" stroke-width="1.3"/>
<line x1="300.52" y1="327.60" x2="303.48" y2="327.60" stroke="#000" stroke-width="1.3"/>
<rect x="314.50" y="368.00" width="7.40" height="13.60" fill="#a8a6ab"/>
<line x1="318.20" y1="351.60" x2="318.20" y2="368.00" stroke="#000" stroke-width="1.3"/>
<line x1="316.72" y1="351.60" x2="319.68" y2="351.60" stroke="#000" stroke-width="1.3"/>
<rect x="323.90" y="371.70" width="7.40" height="9.90" fill="#000"/>
<line x1="327.60" y1="363.00" x2="327.60" y2="371.70" stroke="#000" stroke-width="1.3"/>
<line x1="326.12" y1="363.00" x2="329.08" y2="363.00" stroke="#000" stroke-width="1.3"/>
<rect x="339.70" y="380.90" width="7.40" height="0.70" fill="#a8a6ab"/>
<line x1="343.40" y1="380.40" x2="343.40" y2="380.90" stroke="#000" stroke-width="1.3"/>
<line x1="341.92" y1="380.40" x2="344.88" y2="380.40" stroke="#000" stroke-width="1.3"/>
<rect x="349.10" y="380.70" width="7.40" height="0.90" fill="#000"/>
<line x1="352.80" y1="380.20" x2="352.80" y2="380.70" stroke="#000" stroke-width="1.3"/>
<line x1="351.32" y1="380.20" x2="354.28" y2="380.20" stroke="#000" stroke-width="1.3"/>
<line x1="234.00" y1="296.30" x2="234.00" y2="335.80" stroke="#000" stroke-width="1.1"/>
<line x1="234.00" y1="342.30" x2="234.00" y2="382.10" stroke="#000" stroke-width="1.1"/>
<line x1="233.50" y1="381.60" x2="361.00" y2="381.60" stroke="#000" stroke-width="1.1"/>
<line x1="231.70" y1="296.80" x2="234.00" y2="296.80" stroke="#111" stroke-width="0.9"/>
<text font-size="6.2" font-weight="bold" text-anchor="end" fill="#000" transform="translate(230.60 298.90)">45</text>
<line x1="231.70" y1="311.40" x2="234.00" y2="311.40" stroke="#111" stroke-width="0.9"/>
<text font-size="6.2" font-weight="bold" text-anchor="end" fill="#000" transform="translate(230.60 313.50)">30</text>
<line x1="231.70" y1="326.00" x2="234.00" y2="326.00" stroke="#111" stroke-width="0.9"/>
<text font-size="6.2" font-weight="bold" text-anchor="end" fill="#000" transform="translate(230.60 328.10)">15</text>
<line x1="231.70" y1="335.80" x2="234.00" y2="335.80" stroke="#111" stroke-width="0.9"/>
<text font-size="6.2" font-weight="bold" text-anchor="end" fill="#000" transform="translate(230.60 337.90)">5</text>
<line x1="231.70" y1="342.30" x2="234.00" y2="342.30" stroke="#111" stroke-width="0.9"/>
<text font-size="6.2" font-weight="bold" text-anchor="end" fill="#000" transform="translate(230.60 344.40)">1.5</text>
<line x1="231.70" y1="355.40" x2="234.00" y2="355.40" stroke="#111" stroke-width="0.9"/>
<text font-size="6.2" font-weight="bold" text-anchor="end" fill="#000" transform="translate(230.60 357.50)">1.0</text>
<line x1="231.70" y1="368.50" x2="234.00" y2="368.50" stroke="#111" stroke-width="0.9"/>
<text font-size="6.2" font-weight="bold" text-anchor="end" fill="#000" transform="translate(230.60 370.60)">0.5</text>
<line x1="231.70" y1="381.60" x2="234.00" y2="381.60" stroke="#111" stroke-width="0.9"/>
<text font-size="6.2" font-weight="bold" text-anchor="end" fill="#000" transform="translate(230.60 383.70)">0.0</text>
<line x1="231.40" y1="335.80" x2="235.80" y2="335.80" stroke="#111" stroke-width="0.9"/>
<line x1="231.40" y1="342.30" x2="235.80" y2="342.30" stroke="#111" stroke-width="0.9"/>
<line x1="246.90" y1="381.60" x2="246.90" y2="384.20" stroke="#111" stroke-width="0.9"/>
<text font-size="6.1" font-weight="normal" text-anchor="end" fill="#1a1a1a" font-style="italic" transform="translate(248.00 389.20) rotate(-29)" stroke="none">Adh1</text>
<line x1="272.10" y1="381.60" x2="272.10" y2="384.20" stroke="#111" stroke-width="0.9"/>
<text font-size="6.1" font-weight="normal" text-anchor="end" fill="#1a1a1a" font-style="italic" transform="translate(273.20 389.20) rotate(-29)" stroke="none">Adh2</text>
<line x1="297.30" y1="381.60" x2="297.30" y2="384.20" stroke="#111" stroke-width="0.9"/>
<text font-size="6.1" font-weight="normal" text-anchor="end" fill="#1a1a1a" font-style="italic" transform="translate(298.40 389.20) rotate(-29)" stroke="none">Adh4</text>
<line x1="322.90" y1="381.60" x2="322.90" y2="384.20" stroke="#111" stroke-width="0.9"/>
<text font-size="6.1" font-weight="normal" text-anchor="end" fill="#1a1a1a" font-style="italic" transform="translate(324.00 389.20) rotate(-29)" stroke="none">Adh5</text>
<line x1="348.10" y1="381.60" x2="348.10" y2="384.20" stroke="#111" stroke-width="0.9"/>
<text font-size="6.1" font-weight="normal" text-anchor="end" fill="#1a1a1a" font-style="italic" transform="translate(349.20 389.20) rotate(-29)" stroke="none">Adh7</text>
<text font-size="13.2" font-weight="bold" text-anchor="start" fill="#000" transform="translate(193.00 290.40) scale(1.06 1)" stroke="none">F.</text>
<text font-size="8.2" font-weight="bold" text-anchor="start" fill="#000" transform="translate(290.40 294.00) scale(1.03 1)"><tspan font-family="Liberation Serif, serif" font-weight="normal" font-size="8.2" stroke="none" fill="#3a3a3a">Δ</tspan>36</text>
<text font-size="8.1" font-weight="bold" text-anchor="middle" fill="#000" transform="translate(214.80 338.80) rotate(-90)">Relative expression</text>
<rect x="241.00" y="403.45" width="10.10" height="5.35" fill="#a8a6ab"/>
<text font-size="6.7" font-weight="normal" text-anchor="start" fill="#1a1a1a" transform="translate(255.80 408.50)" stroke="none">control</text>
<rect x="282.00" y="403.45" width="10.10" height="5.35" fill="#000"/>
<text x="296.70" y="408.50" font-size="6.7" fill="#1a1a1a" stroke="none">300 <tspan fill="#444" dx="0.35">μ</tspan><tspan dx="0.35">M</tspan> <tspan font-style="italic" dx="0.2">t</tspan>BHP</text>
<rect x="46.80" y="514.50" width="7.20" height="1.90" fill="#a8a6ab"/>
<line x1="50.40" y1="514.00" x2="50.40" y2="514.50" stroke="#000" stroke-width="1.3"/>
<line x1="48.96" y1="514.00" x2="51.84" y2="514.00" stroke="#000" stroke-width="1.3"/>
<rect x="56.20" y="515.00" width="7.20" height="1.40" fill="#000"/>
<line x1="59.80" y1="514.60" x2="59.80" y2="515.00" stroke="#000" stroke-width="1.3"/>
<line x1="58.36" y1="514.60" x2="61.24" y2="514.60" stroke="#000" stroke-width="1.3"/>
<rect x="72.40" y="501.70" width="7.20" height="14.70" fill="#a8a6ab"/>
<line x1="76.00" y1="499.50" x2="76.00" y2="501.70" stroke="#000" stroke-width="1.3"/>
<line x1="74.56" y1="499.50" x2="77.44" y2="499.50" stroke="#000" stroke-width="1.3"/>
<rect x="81.80" y="507.00" width="7.20" height="9.40" fill="#000"/>
<line x1="85.40" y1="506.20" x2="85.40" y2="507.00" stroke="#000" stroke-width="1.3"/>
<line x1="83.96" y1="506.20" x2="86.84" y2="506.20" stroke="#000" stroke-width="1.3"/>
<rect x="97.90" y="477.30" width="7.20" height="39.10" fill="#a8a6ab"/>
<rect x="97.90" y="468.00" width="7.20" height="2.80" fill="#a8a6ab"/>
<line x1="101.50" y1="454.50" x2="101.50" y2="468.00" stroke="#000" stroke-width="1.3"/>
<line x1="100.06" y1="454.50" x2="102.94" y2="454.50" stroke="#000" stroke-width="1.3"/>
<rect x="107.30" y="477.30" width="7.20" height="39.10" fill="#000"/>
<rect x="107.30" y="460.70" width="7.20" height="10.10" fill="#000"/>
<line x1="110.90" y1="441.20" x2="110.90" y2="460.70" stroke="#000" stroke-width="1.3"/>
<line x1="109.46" y1="441.20" x2="112.34" y2="441.20" stroke="#000" stroke-width="1.3"/>
<rect x="123.30" y="477.30" width="7.20" height="39.10" fill="#a8a6ab"/>
<rect x="123.30" y="468.00" width="7.20" height="2.80" fill="#a8a6ab"/>
<line x1="126.90" y1="453.00" x2="126.90" y2="468.00" stroke="#000" stroke-width="1.3"/>
<line x1="125.46" y1="453.00" x2="128.34" y2="453.00" stroke="#000" stroke-width="1.3"/>
<rect x="132.70" y="477.30" width="7.20" height="39.10" fill="#000"/>
<rect x="132.70" y="463.00" width="7.20" height="7.80" fill="#000"/>
<line x1="136.30" y1="440.50" x2="136.30" y2="463.00" stroke="#000" stroke-width="1.3"/>
<line x1="134.86" y1="440.50" x2="137.74" y2="440.50" stroke="#000" stroke-width="1.3"/>
<rect x="148.80" y="485.00" width="7.20" height="31.40" fill="#a8a6ab"/>
<line x1="152.40" y1="478.20" x2="152.40" y2="485.00" stroke="#000" stroke-width="1.3"/>
<line x1="150.96" y1="478.20" x2="153.84" y2="478.20" stroke="#000" stroke-width="1.3"/>
<rect x="158.20" y="498.00" width="7.20" height="18.40" fill="#000"/>
<line x1="161.80" y1="493.70" x2="161.80" y2="498.00" stroke="#000" stroke-width="1.3"/>
<line x1="160.36" y1="493.70" x2="163.24" y2="493.70" stroke="#000" stroke-width="1.3"/>
<line x1="42.80" y1="431.30" x2="42.80" y2="470.80" stroke="#000" stroke-width="1.1"/>
<line x1="42.80" y1="477.30" x2="42.80" y2="516.90" stroke="#000" stroke-width="1.1"/>
<line x1="42.30" y1="516.40" x2="168.00" y2="516.40" stroke="#000" stroke-width="1.1"/>
<line x1="40.50" y1="431.80" x2="42.80" y2="431.80" stroke="#111" stroke-width="0.9"/>
<text font-size="6.2" font-weight="bold" text-anchor="end" fill="#000" transform="translate(39.40 433.90)">1.0</text>
<line x1="40.50" y1="441.55" x2="42.80" y2="441.55" stroke="#111" stroke-width="0.9"/>
<text font-size="6.2" font-weight="bold" text-anchor="end" fill="#000" transform="translate(39.40 443.65)">0.8</text>
<line x1="40.50" y1="451.30" x2="42.80" y2="451.30" stroke="#111" stroke-width="0.9"/>
<text font-size="6.2" font-weight="bold" text-anchor="end" fill="#000" transform="translate(39.40 453.40)">0.6</text>
<line x1="40.50" y1="461.05" x2="42.80" y2="461.05" stroke="#111" stroke-width="0.9"/>
<text font-size="6.2" font-weight="bold" text-anchor="end" fill="#000" transform="translate(39.40 463.15)">0.4</text>
<line x1="40.50" y1="470.80" x2="42.80" y2="470.80" stroke="#111" stroke-width="0.9"/>
<text font-size="6.2" font-weight="bold" text-anchor="end" fill="#000" transform="translate(39.40 472.90)">0.2</text>
<line x1="40.50" y1="477.30" x2="42.80" y2="477.30" stroke="#111" stroke-width="0.9"/>
<text font-size="6.2" font-weight="bold" text-anchor="end" fill="#000" transform="translate(39.40 479.40)">0.04</text>
<line x1="40.50" y1="496.80" x2="42.80" y2="496.80" stroke="#111" stroke-width="0.9"/>
<text font-size="6.2" font-weight="bold" text-anchor="end" fill="#000" transform="translate(39.40 498.90)">0.02</text>
<line x1="40.50" y1="516.40" x2="42.80" y2="516.40" stroke="#111" stroke-width="0.9"/>
<text font-size="6.2" font-weight="bold" text-anchor="end" fill="#000" transform="translate(39.40 518.50)">0.00</text>
<line x1="40.20" y1="470.80" x2="44.60" y2="470.80" stroke="#111" stroke-width="0.9"/>
<line x1="40.20" y1="477.30" x2="44.60" y2="477.30" stroke="#111" stroke-width="0.9"/>
<line x1="55.10" y1="516.40" x2="55.10" y2="519.00" stroke="#111" stroke-width="0.9"/>
<text font-size="6.1" font-weight="normal" text-anchor="end" fill="#1a1a1a" font-style="italic" transform="translate(56.20 524.00) rotate(-29)" stroke="none">Adh1</text>
<line x1="80.70" y1="516.40" x2="80.70" y2="519.00" stroke="#111" stroke-width="0.9"/>
<text font-size="6.1" font-weight="normal" text-anchor="end" fill="#1a1a1a" font-style="italic" transform="translate(81.80 524.00) rotate(-29)" stroke="none">Adh2</text>
<line x1="106.20" y1="516.40" x2="106.20" y2="519.00" stroke="#111" stroke-width="0.9"/>
<text font-size="6.1" font-weight="normal" text-anchor="end" fill="#1a1a1a" font-style="italic" transform="translate(107.30 524.00) rotate(-29)" stroke="none">Adh3</text>
<line x1="131.60" y1="516.40" x2="131.60" y2="519.00" stroke="#111" stroke-width="0.9"/>
<text font-size="6.1" font-weight="normal" text-anchor="end" fill="#1a1a1a" font-style="italic" transform="translate(132.70 524.00) rotate(-29)" stroke="none">Adh5</text>
<line x1="157.10" y1="516.40" x2="157.10" y2="519.00" stroke="#111" stroke-width="0.9"/>
<text font-size="6.1" font-weight="normal" text-anchor="end" fill="#1a1a1a" font-style="italic" transform="translate(158.20 524.00) rotate(-29)" stroke="none">Adh7</text>
<text font-size="13.2" font-weight="bold" text-anchor="start" fill="#000" transform="translate(8.00 425.40) scale(1.06 1)" stroke="none">G.</text>
<text font-size="8.2" font-weight="bold" text-anchor="start" fill="#000" transform="translate(97.90 428.60) scale(1.03 1)"><tspan font-family="Liberation Serif, serif" font-weight="normal" font-size="8.2" stroke="none" fill="#3a3a3a">Δ</tspan>46</text>
<text font-size="8.1" font-weight="bold" text-anchor="middle" fill="#000" transform="translate(25.90 473.80) rotate(-90)">Relative expression</text>
<rect x="48.80" y="538.35" width="10.10" height="5.35" fill="#a8a6ab"/>
<text font-size="6.7" font-weight="normal" text-anchor="start" fill="#1a1a1a" transform="translate(63.60 543.40)" stroke="none">control</text>
<rect x="89.80" y="538.35" width="10.10" height="5.35" fill="#000"/>
<text x="104.50" y="543.40" font-size="6.7" fill="#1a1a1a" stroke="none">300 <tspan fill="#444" dx="0.35">μ</tspan><tspan dx="0.35">M</tspan> <tspan font-style="italic" dx="0.2">t</tspan>BHP</text>
<rect x="241.10" y="514.70" width="9.20" height="1.70" fill="#a8a6ab"/>
<rect x="253.10" y="515.00" width="9.20" height="1.40" fill="#000"/>
<rect x="272.90" y="509.20" width="9.20" height="7.20" fill="#a8a6ab"/>
<line x1="277.50" y1="507.00" x2="277.50" y2="509.20" stroke="#000" stroke-width="1.3"/>
<line x1="275.66" y1="507.00" x2="279.34" y2="507.00" stroke="#000" stroke-width="1.3"/>
<rect x="284.90" y="508.50" width="9.20" height="7.90" fill="#000"/>
<line x1="289.50" y1="506.70" x2="289.50" y2="508.50" stroke="#000" stroke-width="1.3"/>
<line x1="287.66" y1="506.70" x2="291.34" y2="506.70" stroke="#000" stroke-width="1.3"/>
<rect x="304.70" y="477.30" width="9.20" height="39.10" fill="#a8a6ab"/>
<rect x="304.70" y="468.30" width="9.20" height="2.50" fill="#a8a6ab"/>
<line x1="309.30" y1="452.70" x2="309.30" y2="468.30" stroke="#000" stroke-width="1.3"/>
<line x1="307.46" y1="452.70" x2="311.14" y2="452.70" stroke="#000" stroke-width="1.3"/>
<rect x="316.70" y="477.30" width="9.20" height="39.10" fill="#000"/>
<rect x="316.70" y="462.60" width="9.20" height="8.20" fill="#000"/>
<line x1="321.30" y1="446.50" x2="321.30" y2="462.60" stroke="#000" stroke-width="1.3"/>
<line x1="319.46" y1="446.50" x2="323.14" y2="446.50" stroke="#000" stroke-width="1.3"/>
<rect x="336.40" y="492.30" width="9.20" height="24.10" fill="#a8a6ab"/>
<line x1="341.00" y1="483.20" x2="341.00" y2="492.30" stroke="#000" stroke-width="1.3"/>
<line x1="339.16" y1="483.20" x2="342.84" y2="483.20" stroke="#000" stroke-width="1.3"/>
<rect x="348.40" y="494.30" width="9.20" height="22.10" fill="#000"/>
<line x1="353.00" y1="490.60" x2="353.00" y2="494.30" stroke="#000" stroke-width="1.3"/>
<line x1="351.16" y1="490.60" x2="354.84" y2="490.60" stroke="#000" stroke-width="1.3"/>
<line x1="235.50" y1="431.30" x2="235.50" y2="470.80" stroke="#000" stroke-width="1.1"/>
<line x1="235.50" y1="477.30" x2="235.50" y2="516.90" stroke="#000" stroke-width="1.1"/>
<line x1="235.00" y1="516.40" x2="361.00" y2="516.40" stroke="#000" stroke-width="1.1"/>
<line x1="233.20" y1="431.80" x2="235.50" y2="431.80" stroke="#111" stroke-width="0.9"/>
<text font-size="6.2" font-weight="bold" text-anchor="end" fill="#000" transform="translate(232.10 433.90)">1.5</text>
<line x1="233.20" y1="441.55" x2="235.50" y2="441.55" stroke="#111" stroke-width="0.9"/>
<text font-size="6.2" font-weight="bold" text-anchor="end" fill="#000" transform="translate(232.10 443.65)">1.2</text>
<line x1="233.20" y1="451.30" x2="235.50" y2="451.30" stroke="#111" stroke-width="0.9"/>
<text font-size="6.2" font-weight="bold" text-anchor="end" fill="#000" transform="translate(232.10 453.40)">0.9</text>
<line x1="233.20" y1="461.05" x2="235.50" y2="461.05" stroke="#111" stroke-width="0.9"/>
<text font-size="6.2" font-weight="bold" text-anchor="end" fill="#000" transform="translate(232.10 463.15)">0.6</text>
<line x1="233.20" y1="470.80" x2="235.50" y2="470.80" stroke="#111" stroke-width="0.9"/>
<text font-size="6.2" font-weight="bold" text-anchor="end" fill="#000" transform="translate(232.10 472.90)">0.3</text>
<line x1="233.20" y1="477.30" x2="235.50" y2="477.30" stroke="#111" stroke-width="0.9"/>
<text font-size="6.2" font-weight="bold" text-anchor="end" fill="#000" transform="translate(232.10 479.40)">0.06</text>
<line x1="233.20" y1="490.30" x2="235.50" y2="490.30" stroke="#111" stroke-width="0.9"/>
<text font-size="6.2" font-weight="bold" text-anchor="end" fill="#000" transform="translate(232.10 492.40)">0.04</text>
<line x1="233.20" y1="503.35" x2="235.50" y2="503.35" stroke="#111" stroke-width="0.9"/>
<text font-size="6.2" font-weight="bold" text-anchor="end" fill="#000" transform="translate(232.10 505.45)">0.02</text>
<line x1="233.20" y1="516.40" x2="235.50" y2="516.40" stroke="#111" stroke-width="0.9"/>
<text font-size="6.2" font-weight="bold" text-anchor="end" fill="#000" transform="translate(232.10 518.50)">0.00</text>
<line x1="232.90" y1="470.80" x2="237.30" y2="470.80" stroke="#111" stroke-width="0.9"/>
<line x1="232.90" y1="477.30" x2="237.30" y2="477.30" stroke="#111" stroke-width="0.9"/>
<line x1="251.70" y1="516.40" x2="251.70" y2="519.00" stroke="#111" stroke-width="0.9"/>
<text font-size="6.1" font-weight="normal" text-anchor="end" fill="#1a1a1a" font-style="italic" transform="translate(252.80 524.00) rotate(-29)" stroke="none">Adh1</text>
<line x1="283.50" y1="516.40" x2="283.50" y2="519.00" stroke="#111" stroke-width="0.9"/>
<text font-size="6.1" font-weight="normal" text-anchor="end" fill="#1a1a1a" font-style="italic" transform="translate(284.60 524.00) rotate(-29)" stroke="none">Adh2</text>
<line x1="315.30" y1="516.40" x2="315.30" y2="519.00" stroke="#111" stroke-width="0.9"/>
<text font-size="6.1" font-weight="normal" text-anchor="end" fill="#1a1a1a" font-style="italic" transform="translate(316.40 524.00) rotate(-29)" stroke="none">Adh5</text>
<line x1="347.00" y1="516.40" x2="347.00" y2="519.00" stroke="#111" stroke-width="0.9"/>
<text font-size="6.1" font-weight="normal" text-anchor="end" fill="#1a1a1a" font-style="italic" transform="translate(348.10 524.00) rotate(-29)" stroke="none">Adh7</text>
<text font-size="13.2" font-weight="bold" text-anchor="start" fill="#000" transform="translate(192.40 425.30) scale(1.06 1)" stroke="none">H.</text>
<text font-size="8.2" font-weight="bold" text-anchor="start" fill="#000" transform="translate(289.00 429.00) scale(1.03 1)"><tspan font-family="Liberation Serif, serif" font-weight="normal" font-size="8.2" stroke="none" fill="#3a3a3a">Δ</tspan>346</text>
<text font-size="8.1" font-weight="bold" text-anchor="middle" fill="#000" transform="translate(219.40 473.80) rotate(-90)">Relative expression</text>
<rect x="242.60" y="538.65" width="10.10" height="5.35" fill="#a8a6ab"/>
<text font-size="6.7" font-weight="normal" text-anchor="start" fill="#1a1a1a" transform="translate(257.40 543.70)" stroke="none">control</text>
<rect x="283.60" y="538.65" width="10.10" height="5.35" fill="#000"/>
<text x="298.30" y="543.70" font-size="6.7" fill="#1a1a1a" stroke="none">300 <tspan fill="#444" dx="0.35">μ</tspan><tspan dx="0.35">M</tspan> <tspan font-style="italic" dx="0.2">t</tspan>BHP</text>
</g>
</svg></body></html>
